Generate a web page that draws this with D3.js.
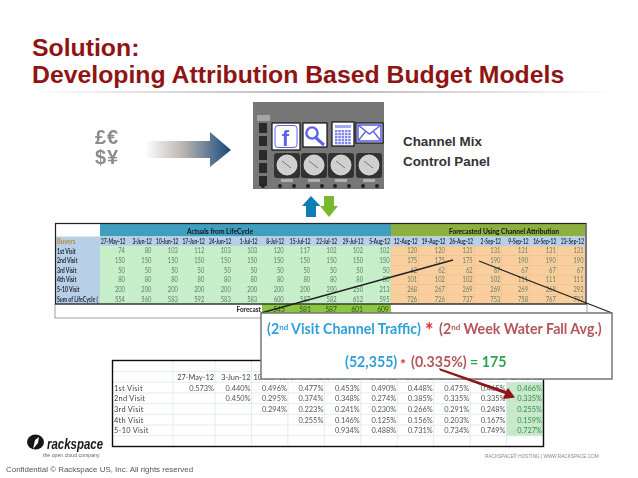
<!DOCTYPE html>
<html>
<head>
<meta charset="utf-8">
<script src="https://cdn.jsdelivr.net/npm/d3@7"></script>
<style>
  html, body { margin: 0; padding: 0; background: #fff; }
  svg { display: block; }
</style>
</head>
<body>
<svg id="slide" width="638" height="478"></svg>
<script>
// top table
var actualDates = ["27-May-12", "3-Jun-12", "10-Jun-12", "17-Jun-12", "24-Jun-12", "1-Jul-12", "8-Jul-12", "15-Jul-12", "22-Jul-12", "29-Jul-12", "5-Aug-12"];
var forecastDates = ["12-Aug-12", "19-Aug-12", "26-Aug-12", "2-Sep-12", "9-Sep-12", "16-Sep-12", "23-Sep-12"];
var buyerLabels = ["1st Visit", "2nd Visit", "3rd Visit", "4th Visit", "5-10 Visit", "Sum of LifeCycle ("];
var visit1 = [74, 80, 103, 112, 103, 103, 120, 117, 102, 102, 102, 120, 120, 131, 131, 131, 131, 131];
var visit2 = [150, 150, 150, 150, 150, 150, 150, 150, 150, 150, 150, 175, 175, 175, 190, 190, 190, 190];
var visit3 = [50, 50, 50, 50, 50, 50, 50, 50, 50, 50, 50, 62, 62, 62, 67, 67, 67, 67];
var visit4 = [80, 80, 80, 80, 80, 80, 80, 80, 80, 80, 80, 101, 102, 102, 102, 111, 111, 111];
var visit510 = [200, 200, 200, 200, 200, 200, 200, 200, 200, 250, 213, 268, 267, 269, 269, 269, 269, 292];
var visitSum = [554, 560, 583, 592, 583, 583, 600, 587, 582, 612, 595, 726, 726, 737, 753, 758, 767, 792];
var forecastRow = [545, 581, 587, 601, 609];

// bottom table
var waterfallDates = ["27-May-12", "3-Jun-12", "10-Jun-12", "17-Jun-12", "24-Jun-12", "1-Jul-12", "8-Jul-12", "15-Jul-12", "22-Jul-12", "29-Jul-12"];
var waterfallLabels = ["1st Visit", "2nd Visit", "3rd Visit", "4th Visit", "5-10 Visit"];
var fall1 = [0.573, 0.440, 0.496, 0.477, 0.453, 0.490, 0.448, 0.475, 0.465, 0.466];
var fall2 = [null, 0.450, 0.295, 0.374, 0.348, 0.274, 0.385, 0.335, 0.335, 0.335];
var fall3 = [null, null, 0.294, 0.223, 0.241, 0.230, 0.266, 0.291, 0.248, 0.255];
var fall4 = [null, null, null, 0.255, 0.146, 0.125, 0.156, 0.203, 0.167, 0.159];
var fall5 = [null, null, null, null, 0.934, 0.488, 0.731, 0.734, 0.749, 0.727];

var svg = d3.select("#slide");
var defs = svg.append("defs");

defs.append("filter").attr("id", "soft")
    .attr("x", "-5%").attr("y", "-5%").attr("width", "110%").attr("height", "110%")
    .append("feGaussianBlur").attr("stdDeviation", 0.35);

var arrowGrad = defs.append("linearGradient").attr("id", "arrowGrad");
arrowGrad.append("stop").attr("offset", "0%").attr("stop-color", "#fff");
arrowGrad.append("stop").attr("offset", "45%").attr("stop-color", "#b9b4ae");
arrowGrad.append("stop").attr("offset", "100%").attr("stop-color", "#17497c");

var ruleGrad = defs.append("linearGradient").attr("id", "ruleGrad");
ruleGrad.append("stop").attr("offset", "0%").attr("stop-color", "#fff");
ruleGrad.append("stop").attr("offset", "50%").attr("stop-color", "#b5b5b5");
ruleGrad.append("stop").attr("offset", "100%").attr("stop-color", "#fff");

var SANS = "'Liberation Sans', Arial, sans-serif";
var CELL = "Lato, 'Open Sans', sans-serif";

// no condensed font here, so squeeze the table text sideways
function squeeze(sel, k) {
    sel.each(function () {
        var w = this.getComputedTextLength();
        d3.select(this).attr("textLength", w * k).attr("lengthAdjust", "spacingAndGlyphs");
    });
}

// background and title
svg.append("rect").attr("width", 638).attr("height", 478).attr("fill", "#fff");
svg.append("text").attr("x", 32).attr("y", 56)
    .attr("font-family", SANS).attr("font-size", 24.8).attr("font-weight", "bold").attr("fill", "#8f1414")
    .text("Solution:");
svg.append("text").attr("x", 32).attr("y", 83)
    .attr("font-family", SANS).attr("font-size", 24.8).attr("font-weight", "bold").attr("fill", "#8f1414")
    .text("Developing Attribution Based Budget Models");
svg.append("rect").attr("x", 28).attr("y", 91).attr("width", 585).attr("height", 2).attr("fill", "url(#ruleGrad)");

// currency and big arrow
var money = svg.append("g").attr("filter", "url(#soft)");
money.append("text").attr("x", 95).attr("y", 144).attr("font-family", SANS).attr("font-size", 20)
    .attr("font-weight", "bold").attr("fill", "#8c8c8c").attr("letter-spacing", 1).text("£€");
money.append("text").attr("x", 95).attr("y", 164).attr("font-family", SANS).attr("font-size", 20)
    .attr("font-weight", "bold").attr("fill", "#8c8c8c").attr("letter-spacing", 1).text("$¥");
money.append("path").attr("fill", "url(#arrowGrad)")
    .attr("d", "M145,141H210V132L231,150L210,167V158H145Z");

// control panel
var panel = svg.append("g").attr("filter", "url(#soft)");
panel.append("rect").attr("x", 253).attr("y", 102).attr("width", 131).attr("height", 87).attr("fill", "#777");
panel.append("rect").attr("x", 257).attr("y", 115).attr("width", 13).attr("height", 6).attr("fill", "#a5a5a5");

var switchY = [128, 141, 155, 168, 181];
panel.selectAll("rect.sw").data(switchY).enter().append("rect").attr("class", "sw")
    .attr("x", 259).attr("y", d => d - 5).attr("width", 8).attr("height", 10).attr("fill", "#2b2b2b");

// icon tiles
var tiles = [[272, 123, 28, 27], [303, 123, 24, 24], [332, 122, 22, 24], [356, 123, 27, 20]];
panel.selectAll("rect.tile").data(tiles).enter().append("rect").attr("class", "tile")
    .attr("x", d => d[0]).attr("y", d => d[1]).attr("width", d => d[2]).attr("height", d => d[3])
    .attr("fill", "#fff").attr("stroke", "#111").attr("stroke-width", 1.2);
panel.append("rect").attr("x", 275).attr("y", 125.5).attr("width", 22).attr("height", 22).attr("rx", 3)
    .attr("fill", "#fff").attr("stroke", "#5c63e8").attr("stroke-width", 1);
panel.append("text").attr("x", 285.5).attr("y", 146).attr("text-anchor", "middle").attr("font-family", SANS)
    .attr("font-size", 22).attr("font-weight", "bold").attr("fill", "#5c63e8").text("f");
panel.append("circle").attr("cx", 312).attr("cy", 133).attr("r", 5.6).attr("fill", "#fff").attr("stroke", "#5c63e8").attr("stroke-width", 2.4);
panel.append("line").attr("x1", 316).attr("y1", 138).attr("x2", 324).attr("y2", 145).attr("stroke", "#5c63e8").attr("stroke-width", 3);
d3.range(5).forEach(function (r) {
    d3.range(5).forEach(function (c) {
        panel.append("rect").attr("x", 335 + c * 3.3).attr("y", 130 + r * 3)
            .attr("width", 2.5).attr("height", 2.3).attr("fill", "#7f85ee");
    });
});
panel.append("rect").attr("x", 335).attr("y", 125).attr("width", 16).attr("height", 3).attr("fill", "#a4a8f2");
panel.append("rect").attr("x", 358).attr("y", 125).attr("width", 23).attr("height", 16).attr("fill", "#fff").attr("stroke", "#5c63e8").attr("stroke-width", 1.6);
panel.append("path").attr("d", "M358,125L369.5,134L381,125M358,141L366,131M381,141L373,131")
    .attr("fill", "none").attr("stroke", "#5c63e8").attr("stroke-width", 1.4);

// dials
var dialX = [287, 314, 341, 369];
panel.selectAll("rect.dialbox").data(dialX).enter().append("rect").attr("class", "dialbox")
    .attr("x", d => d - 13).attr("y", 153).attr("width", 26).attr("height", 25).attr("rx", 3).attr("fill", "#333");
panel.selectAll("circle.dial").data(dialX).enter().append("circle").attr("class", "dial")
    .attr("cx", d => d).attr("cy", 165).attr("r", 10).attr("fill", "#cfcfcf").attr("stroke", "#eee").attr("stroke-width", 0.8);
panel.selectAll("line.needle").data(dialX).enter().append("line").attr("class", "needle")
    .attr("x1", d => d - 5).attr("y1", 161).attr("x2", d => d + 4).attr("y2", 168)
    .attr("stroke", "#777").attr("stroke-width", 1);
panel.selectAll("rect.plate").data(dialX).enter().append("rect").attr("class", "plate")
    .attr("x", d => d - 6).attr("y", 179).attr("width", 12).attr("height", 3).attr("fill", "#b0b0b0");
var knobX = [263, 280, 294, 308, 322, 335, 349, 363, 377];
panel.selectAll("circle.knob").data(knobX).enter().append("circle").attr("class", "knob")
    .attr("cx", d => d).attr("cy", 186).attr("r", 2).attr("fill", "#222");

// up and down arrows
svg.append("path").attr("fill", "#0f7db8").attr("d", "M311,196L320.5,206H316V217H306V206H302Z").attr("filter", "url(#soft)");
svg.append("path").attr("fill", "#7ab831").attr("d", "M329,217L338,206H334V196H324V206H320Z").attr("filter", "url(#soft)");

// panel caption
svg.append("text").attr("x", 403).attr("y", 146).attr("font-family", SANS).attr("font-size", 13.4).attr("font-weight", "bold").attr("fill", "#333").text("Channel Mix");
svg.append("text").attr("x", 403).attr("y", 166).attr("font-family", SANS).attr("font-size", 13.4).attr("font-weight", "bold").attr("fill", "#333").text("Control Panel");

// top table
var t1 = svg.append("g").attr("filter", "url(#soft)");
var allDates = actualDates.concat(forecastDates);
var visitRows = [visit1, visit2, visit3, visit4, visit510, visitSum];
var xActual = d3.scaleBand().domain(actualDates).range([100, 391]);
var xForecast = d3.scaleBand().domain(forecastDates).range([391, 585]);
var xCol = d => actualDates.includes(d) ? xActual(d) : xForecast(d);
var wCol = d => actualDates.includes(d) ? xActual.bandwidth() : xForecast.bandwidth();
var yRow = d3.scaleBand().domain(d3.range(7)).range([236.5, 304]);

t1.append("rect").attr("x", 100).attr("y", 224).attr("width", 291).attr("height", 12.5).attr("fill", "#3f9fbf");
t1.append("rect").attr("x", 391).attr("y", 224).attr("width", 194).attr("height", 12.5).attr("fill", "#8db03f");
t1.append("rect").attr("x", 100).attr("y", 236.5).attr("width", 485).attr("height", yRow.bandwidth()).attr("fill", "#b8cfe8");
t1.append("rect").attr("x", 56).attr("y", 236.5).attr("width", 44).attr("height", 67.5).attr("fill", "#b8cfe8");

visitRows.forEach(function (row, r) {
    t1.selectAll(null).data(allDates).enter().append("rect")
        .attr("x", d => xCol(d)).attr("y", yRow(r + 1))
        .attr("width", d => wCol(d)).attr("height", yRow.bandwidth())
        .attr("fill", d => actualDates.includes(d) ? "#c6efc9" : "#fbcf9d")
        .attr("stroke", d => actualDates.includes(d) ? "#c6efc9" : "#e6b98a").attr("stroke-width", 0.4);
    t1.selectAll(null).data(row).enter().append("text")
        .attr("x", (d, i) => xCol(allDates[i]) + wCol(allDates[i]) - 1.5)
        .attr("y", yRow(r + 1) + 7.3)
        .attr("text-anchor", "end").attr("font-family", CELL).attr("font-size", 6.8).attr("fill", "#5f7f65")
        .text(d => d)
        .call(squeeze, 0.85);
    t1.append("text").attr("x", 57).attr("y", yRow(r + 1) + 7.4)
        .attr("font-family", CELL).attr("font-size", 7).attr("font-weight", "bold").attr("fill", "#1c2430")
        .text(buyerLabels[r])
        .call(squeeze, 0.74);
});
t1.selectAll(null).data(allDates).enter().append("text")
    .attr("x", d => xCol(d) + wCol(d) - 1)
    .attr("y", yRow(0) + 7.4)
    .attr("text-anchor", "end").attr("font-family", CELL).attr("font-size", 6.8).attr("font-weight", "bold").attr("fill", "#26303d")
    .text(d => d)
    .call(squeeze, 0.72);
t1.append("text").attr("x", 57).attr("y", yRow(0) + 7.4).attr("font-family", CELL).attr("font-size", 7)
    .attr("font-weight", "bold").attr("fill", "#b6873a").text("Buyers").call(squeeze, 0.85);
t1.append("text").attr("x", 220).attr("y", 233.5).attr("text-anchor", "middle").attr("font-family", CELL)
    .attr("font-size", 8.4).attr("font-weight", "bold").attr("fill", "#111").text("Actuals from LifeCycle").call(squeeze, 0.79);
t1.append("text").attr("x", 504).attr("y", 233.5).attr("text-anchor", "middle").attr("font-family", CELL)
    .attr("font-size", 8.4).attr("font-weight", "bold").attr("fill", "#111").text("Forecasted Using Channel Attribution").call(squeeze, 0.79);

// forecast row under the table
t1.append("rect").attr("x", 55).attr("y", 304).attr("width", 532).attr("height", 14).attr("fill", "#fff").attr("stroke", "#888").attr("stroke-width", 0.8);
t1.append("rect").attr("x", 262).attr("y", 304).attr("width", 129).attr("height", 14).attr("fill", "#8cc63f");
var xForecastRow = d3.scaleBand().domain(actualDates.slice(6)).range([261, 391]);
t1.selectAll(null).data(forecastRow).enter().append("text")
    .attr("x", (d, i) => xForecastRow(actualDates[i + 6]) + xForecastRow.bandwidth() - 2)
    .attr("y", 311.5).attr("text-anchor", "end").attr("font-family", CELL).attr("font-size", 6.8).attr("fill", "#35501a")
    .text(d => d);
t1.append("text").attr("x", 261).attr("y", 312).attr("text-anchor", "end").attr("font-family", CELL)
    .attr("font-size", 7.6).attr("font-weight", "bold").attr("fill", "#222").text("Forecast").call(squeeze, 0.85);
t1.append("rect").attr("x", 55.5).attr("y", 223.5).attr("width", 530.5).attr("height", 80.5)
    .attr("fill", "none").attr("stroke", "#222").attr("stroke-width", 1.2);

// bottom table
var t2 = svg.append("g").attr("filter", "url(#soft)");
var fallRows = [fall1, fall2, fall3, fall4, fall5];
var xFall = d3.scalePoint().domain(waterfallDates).range([215, 543]);
var stepFall = xFall.step();
var yFall = d3.scaleBand().domain(d3.range(7)).range([371.5, 446.5]);

t2.append("rect").attr("x", 112.5).attr("y", 360.5).attr("width", 431).attr("height", 86).attr("fill", "#fff");
t2.append("rect").attr("x", xFall("29-Jul-12") - stepFall).attr("y", yFall(1)).attr("width", stepFall + 1).attr("height", yFall.bandwidth() * 5)
    .attr("fill", "#c6eac8");

// faint cell grid
waterfallDates.forEach(function (d) {
    t2.append("line").attr("x1", xFall(d)).attr("x2", xFall(d)).attr("y1", 360).attr("y2", 446).attr("stroke", "#d9e3ee").attr("stroke-width", 0.7);
});
t2.append("line").attr("x1", 173).attr("x2", 173).attr("y1", 360).attr("y2", 446).attr("stroke", "#d9e3ee").attr("stroke-width", 0.7);
d3.range(7).forEach(function (r) {
    t2.append("line").attr("x1", 112).attr("x2", 543).attr("y1", yFall(r)).attr("y2", yFall(r)).attr("stroke", "#d9e3ee").attr("stroke-width", 0.7);
});

t2.selectAll(null).data(waterfallDates).enter().append("text")
    .attr("x", d => xFall(d) - 1).attr("y", yFall(0) + 8.3)
    .attr("text-anchor", "end").attr("font-family", CELL).attr("font-size", 7.4).attr("fill", "#444").text(d => d);
fallRows.forEach(function (row, r) {
    t2.append("text").attr("x", 114).attr("y", yFall(r + 1) + 8.3).attr("font-family", CELL)
        .attr("font-size", 7.4).attr("fill", "#444").attr("letter-spacing", 0.3).text(waterfallLabels[r]);
    var cells = row.map((v, i) => ({ value: v, date: waterfallDates[i] })).filter(c => c.value !== null);
    t2.selectAll(null).data(cells).enter().append("text")
        .attr("x", c => xFall(c.date) - 1)
        .attr("y", yFall(r + 1) + 8.3)
        .attr("text-anchor", "end").attr("font-family", CELL).attr("font-size", 7.4)
        .attr("fill", c => c.date === "29-Jul-12" ? "#3f8a55" : "#555")
        .text(c => d3.format(".3f")(c.value) + "%");
});
t2.append("rect").attr("x", 112.5).attr("y", 360.5).attr("width", 431).attr("height", 86)
    .attr("fill", "none").attr("stroke", "#111").attr("stroke-width", 1.4);

// callout lines and box
svg.append("line").attr("x1", 261).attr("y1", 313).attr("x2", 453).attr("y2", 260).attr("stroke", "#222").attr("stroke-width", 1.3);
svg.append("line").attr("x1", 479).attr("y1", 261).attr("x2", 612).attr("y2", 313).attr("stroke", "#222").attr("stroke-width", 1.3);
svg.append("rect").attr("x", 261).attr("y", 313).attr("width", 351).attr("height", 66)
    .attr("fill", "#fff").attr("stroke", "#777").attr("stroke-width", 1.5);

var blue = "#2f9fd8", rose = "#b5545a", green = "#2aa352";
var callout = svg.append("g").attr("font-family", CELL).attr("font-weight", "bold").attr("filter", "url(#soft)");
var l1 = callout.append("text").attr("x", 267).attr("y", 334).attr("font-size", 14.2).attr("fill", blue);
l1.append("tspan").text("(2");
l1.append("tspan").attr("dy", -4).attr("font-size", 8).text("nd");
l1.append("tspan").attr("dy", 4).text(" Visit Channel Traffic)");
callout.append("text").attr("x", 425).attr("y", 338).attr("font-size", 20).attr("fill", "#e32b2b").text("*");
var l2 = callout.append("text").attr("x", 439).attr("y", 334).attr("font-size", 14.2).attr("fill", rose);
l2.append("tspan").text("(2");
l2.append("tspan").attr("dy", -4).attr("font-size", 8).text("nd");
l2.append("tspan").attr("dy", 4).text(" Week Water Fall Avg.)");
callout.append("text").attr("x", 345).attr("y", 367).attr("font-size", 14.2).attr("fill", blue).text("(52,355)");
callout.append("text").attr("x", 400).attr("y", 369).attr("font-size", 14).attr("fill", "#e32b2b").text("*");
callout.append("text").attr("x", 411).attr("y", 367).attr("font-size", 14.2).attr("fill", rose).text("(0.335%)");
callout.append("text").attr("x", 470).attr("y", 367).attr("font-size", 14.2).attr("fill", green).text("= 175");

// red arrow
svg.append("path").attr("fill", "#8e1414").attr("filter", "url(#soft)")
    .attr("d", "M439,368L440,370.5L505,394L503,399L515,397.5L508,388L506,391Z");

// logo
var logo = svg.append("g").attr("filter", "url(#soft)");
logo.append("ellipse").attr("cx", 35.5).attr("cy", 442).attr("rx", 8.5).attr("ry", 7.5).attr("fill", "#161616");
logo.append("path").attr("d", "M33,449L35,440L39,437L38,443Z").attr("fill", "#fff");
logo.append("text").attr("x", 47).attr("y", 449).attr("font-family", SANS).attr("font-size", 15).attr("font-weight", "bold")
    .attr("font-style", "italic").attr("fill", "#161616").attr("textLength", 56).attr("lengthAdjust", "spacingAndGlyphs").text("rackspace");
logo.append("text").attr("x", 43).attr("y", 456.5).attr("font-family", SANS).attr("font-size", 5.2).attr("fill", "#666").text("the open cloud company");

// footer
svg.append("text").attr("x", 6).attr("y", 472).attr("font-family", SANS).attr("font-size", 7.95).attr("fill", "#555")
    .attr("filter", "url(#soft)").text("Confidential © Rackspace US, Inc. All rights reserved");
svg.append("text").attr("x", 485).attr("y", 457.5).attr("font-family", SANS).attr("font-size", 4.7).attr("fill", "#888")
    .attr("filter", "url(#soft)").text("RACKSPACE® HOSTING  |  WWW.RACKSPACE.COM");
</script>
</body>
</html>
